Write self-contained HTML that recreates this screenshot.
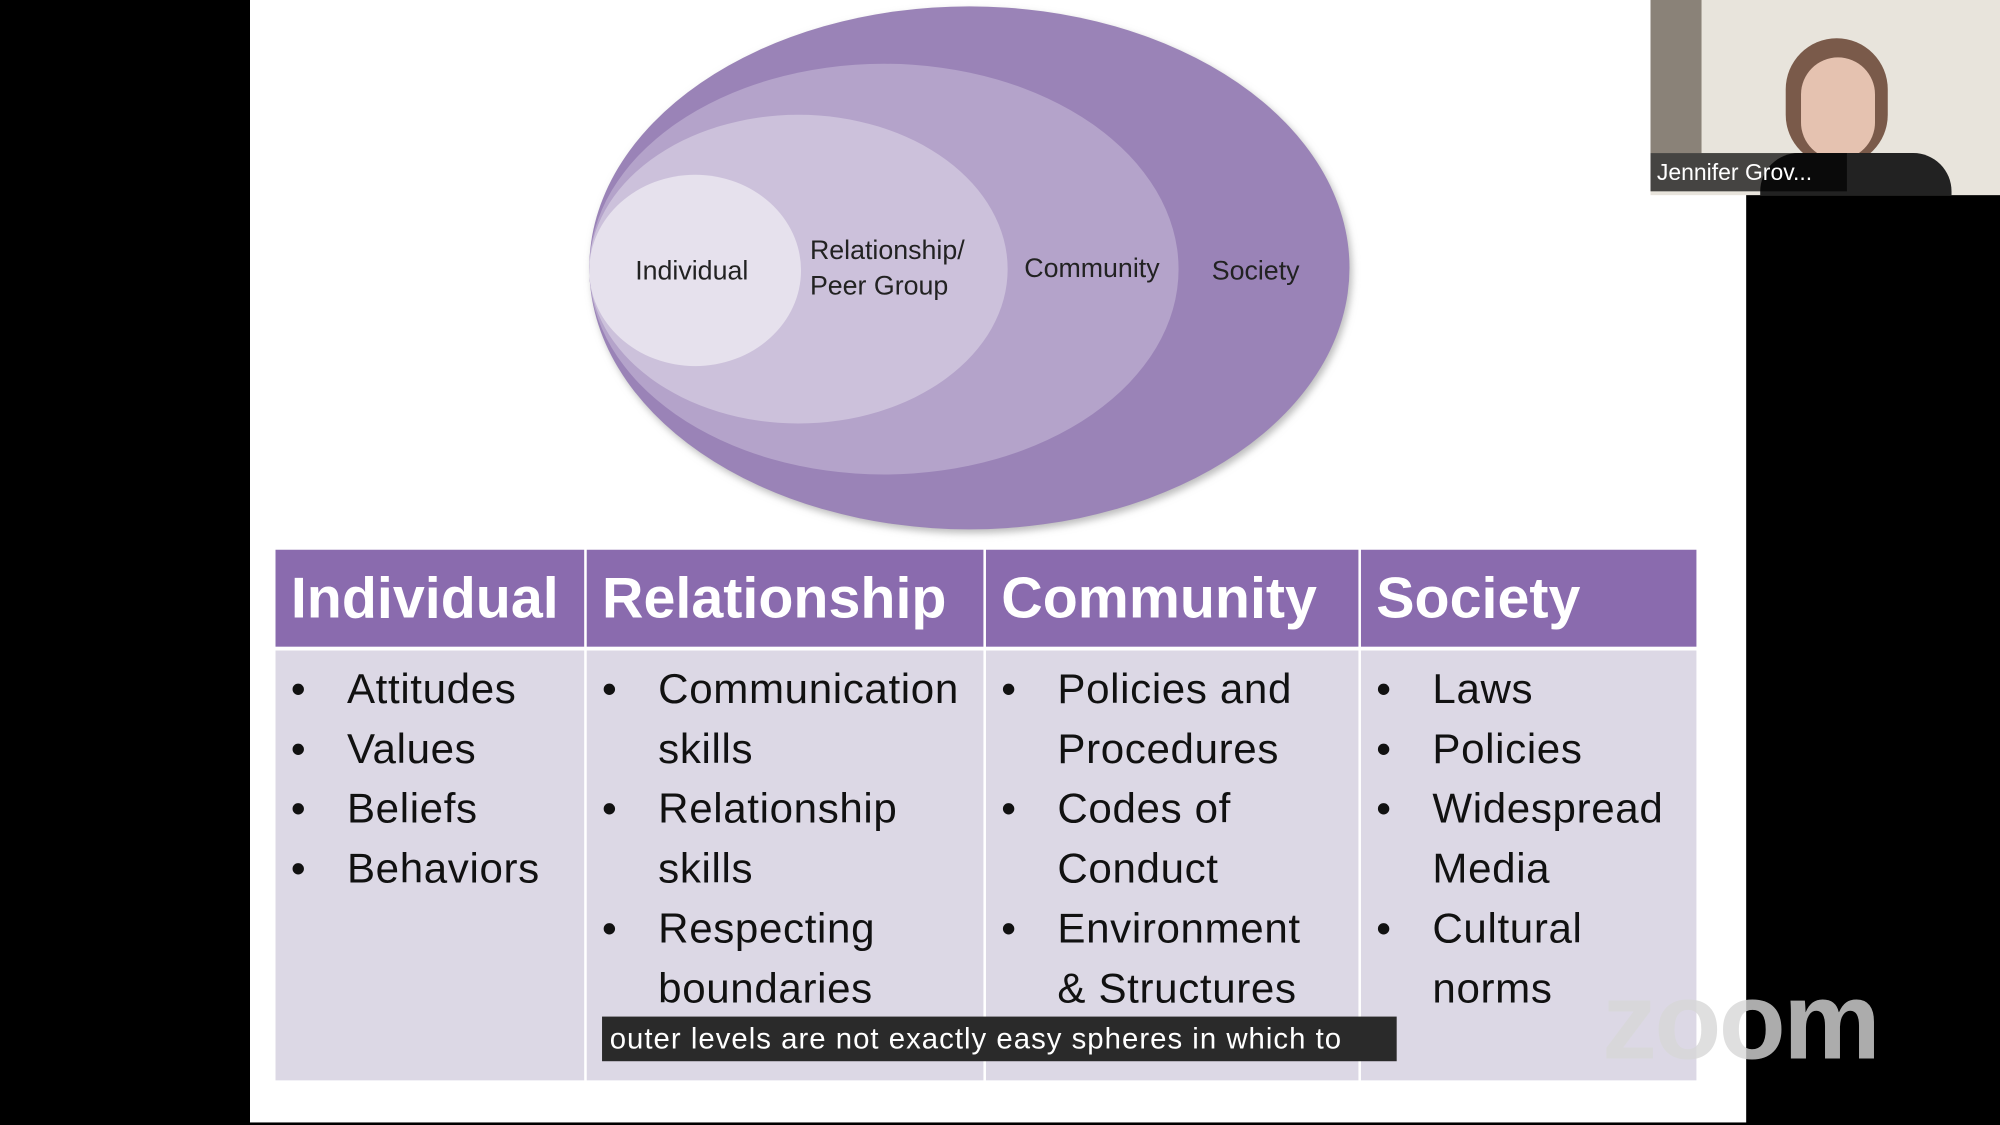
<!DOCTYPE html>
<html><head><meta charset="utf-8"><style>
html,body{margin:0;padding:0;background:#000;width:2000px;height:1125px;overflow:hidden}
#s{position:absolute;left:0;top:0;width:1568px;height:882px;transform:scale(1.27551);transform-origin:0 0;font-family:"Liberation Sans",sans-serif}
.a{position:absolute}
.h{position:absolute;top:431px;height:76px;background:#8a6bae;color:#fff;font-weight:bold;font-size:45px;line-height:76px;padding-left:12px;box-sizing:border-box}
.b{position:absolute;top:510px;height:337px;background:#dcd8e5;color:#111;font-size:33px;line-height:47px;box-sizing:border-box;padding-top:6px;letter-spacing:0.5px}
.b div{position:relative;padding-left:56px}
.b div.d:before{content:"•";position:absolute;left:12px}
</style></head><body><div id="s">
<div class="a" style="left:196px;top:0;width:1173px;height:880px;background:#fff"></div>
<svg class="a" style="left:0;top:0" width="1568" height="882">
<defs><filter id="sh"><feGaussianBlur stdDeviation="3"/></filter></defs>
<ellipse cx="762" cy="213" rx="298" ry="205" fill="#bbb" filter="url(#sh)"/>
<ellipse cx="760" cy="210" rx="298" ry="205" fill="#9a83b7"/>
<ellipse cx="693" cy="211" rx="231" ry="161" fill="#b4a3ca"/>
<ellipse cx="626" cy="211" rx="164" ry="121" fill="#ccc1db"/>
<ellipse cx="545" cy="212" rx="83" ry="75" fill="#e6e1ed"/>
<g font-family="Liberation Sans,sans-serif" font-size="21" fill="#222">
<text x="498" y="219">Individual</text>
<text x="635" y="203">Relationship/</text>
<text x="635" y="231">Peer Group</text>
<text x="803" y="217">Community</text>
<text x="950" y="219">Society</text>
</g>
</svg>
<div class="h" style="left:216px;width:242px">Individual</div>
<div class="h" style="left:460px;width:311px">Relationship</div>
<div class="h" style="left:773px;width:292px">Community</div>
<div class="h" style="left:1067px;width:263px">Society</div>
<div class="b" style="left:216px;width:242px"><div class="d">Attitudes</div><div class="d">Values</div><div class="d">Beliefs</div><div class="d">Behaviors</div></div>
<div class="b" style="left:460px;width:311px"><div class="d">Communication</div><div>skills</div><div class="d">Relationship</div><div>skills</div><div class="d">Respecting</div><div>boundaries</div></div>
<div class="b" style="left:773px;width:292px"><div class="d">Policies and</div><div>Procedures</div><div class="d">Codes of</div><div>Conduct</div><div class="d">Environment</div><div>&amp; Structures</div></div>
<div class="b" style="left:1067px;width:263px"><div class="d">Laws</div><div class="d">Policies</div><div class="d">Widespread</div><div>Media</div><div class="d">Cultural</div><div>norms</div></div>
<div class="a" style="left:1256px;top:752px;font-size:86px;color:rgba(215,215,215,0.8);font-weight:bold;letter-spacing:-2px">zoom</div>
<div class="a" style="left:472px;top:797px;width:623px;height:35px;background:#2a2a2a;color:#fff;font-size:23px;line-height:35px;padding-left:6px;box-sizing:border-box;letter-spacing:0.8px">outer levels are not exactly easy spheres in which to</div>
<div class="a" style="left:1294px;top:0;width:274px;height:153px;background:#e8e4dc"></div>
<div class="a" style="left:1294px;top:0;width:40px;height:120px;background:#8a8278"></div>
<div class="a" style="left:1400px;top:30px;width:80px;height:100px;border-radius:40px;background:#7a5a4a"></div>
<div class="a" style="left:1412px;top:45px;width:58px;height:80px;border-radius:29px;background:#e5c2b0"></div>
<div class="a" style="left:1380px;top:120px;width:150px;height:33px;border-radius:30px 30px 0 0;background:#222"></div>
<div class="a" style="left:1294px;top:120px;width:154px;height:30px;background:rgba(0,0,0,0.7);color:#fff;font-size:18px;line-height:30px;padding-left:5px;box-sizing:border-box">Jennifer Grov...</div>
</div></body></html>
